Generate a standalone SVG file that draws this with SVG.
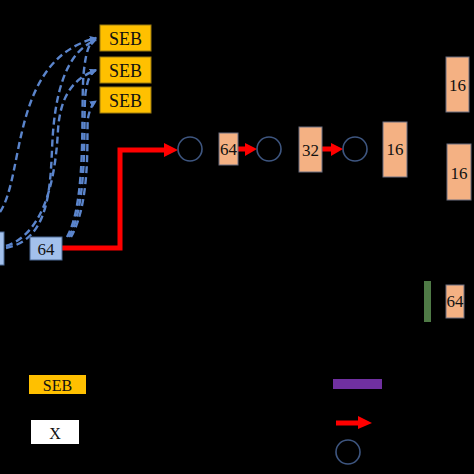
<svg xmlns="http://www.w3.org/2000/svg" width="474" height="474" viewBox="0 0 474 474">
<defs>
<style>
.t{font-family:"Liberation Serif","DejaVu Serif",serif;fill:#111;text-anchor:middle}
.seb{fill:#FFC000;stroke:#9a7a10;stroke-width:1}
.blu{fill:#a3c1ec;stroke:#4d6a96;stroke-width:1}
.ora{fill:#F4B183;stroke:#6d6f80;stroke-width:1}
.cir{fill:none;stroke:#3e5680;stroke-width:1.6}
.dash{fill:none;stroke:#5b85cc;stroke-width:2.4;stroke-dasharray:7 4}
.red{fill:none;stroke:#ff0000;stroke-width:5}
</style>
<marker id="ba" markerWidth="7" markerHeight="7" refX="6" refY="3.5" orient="auto" markerUnits="userSpaceOnUse">
<path d="M0,0 L7,3.5 L0,7 Z" fill="#5b85cc"/>
</marker>
</defs>
<rect width="474" height="474" fill="#000"/>
<g id="connectors">
<path class="dash" d="M0,212 C25,175 10,60 96,38" marker-end="url(#ba)"/>
<path class="dash" d="M6,248 C45,240 50,200 52,150 C54,95 65,52 96,40" marker-end="url(#ba)"/>
<path class="dash" d="M6,246 C40,235 55,190 58,130 C60,100 70,80 96,70" marker-end="url(#ba)"/>
<path class="dash" d="M67,237 C88,200 80,100 84,70 C86,52 89,42 96,38" marker-end="url(#ba)"/>
<path class="dash" d="M69,237 C90,200 82,110 86,90 C88,78 91,72 96,70" marker-end="url(#ba)"/>
<path class="dash" d="M71,237 C92,200 86,130 88,118 C90,108 93,103 96,101" marker-end="url(#ba)"/>
<path class="red" d="M62,248 H120 V150 H166"/>
<path d="M164,143 L178,150 L164,157 Z" fill="#ff0000"/>
<path d="M238,149 H247" stroke="#ff0000" stroke-width="5"/>
<path d="M245,143 L257,149 L245,156 Z" fill="#ff0000"/>
<path d="M322,149 H333" stroke="#ff0000" stroke-width="5"/>
<path d="M331,143 L343,149 L331,156 Z" fill="#ff0000"/>
</g>
<g id="seb1"><rect class="seb" x="100" y="25" width="51" height="26"/><text class="t" x="125.5" y="44.5" font-size="18">SEB</text></g>
<g id="seb2"><rect class="seb" x="100" y="57" width="51" height="26"/><text class="t" x="125.5" y="76.5" font-size="18">SEB</text></g>
<g id="seb3"><rect class="seb" x="100" y="87" width="51" height="26"/><text class="t" x="125.5" y="106.5" font-size="18">SEB</text></g>
<g id="blue-left"><rect class="blu" x="-10" y="232" width="14" height="33"/></g>
<g id="blue64"><rect class="blu" x="30" y="237" width="32" height="23"/><text class="t" x="46" y="255" font-size="17">64</text></g>
<g id="circle1"><circle class="cir" cx="190" cy="149" r="12"/></g>
<g id="box64"><rect class="ora" x="219" y="133" width="19" height="32"/><text class="t" x="228.5" y="155" font-size="17">64</text></g>
<g id="circle2"><circle class="cir" cx="269" cy="149" r="12"/></g>
<g id="box32"><rect class="ora" x="299" y="127" width="23" height="45"/><text class="t" x="310.5" y="156" font-size="17">32</text></g>
<g id="circle3"><circle class="cir" cx="355" cy="149" r="12"/></g>
<g id="box16a"><rect class="ora" x="383" y="122" width="24" height="55"/><text class="t" x="395" y="155" font-size="17">16</text></g>
<g id="box16b"><rect class="ora" x="446" y="57" width="23" height="55"/><text class="t" x="457.5" y="91" font-size="17">16</text></g>
<g id="box16c"><rect class="ora" x="447" y="144" width="24" height="56"/><text class="t" x="459" y="179" font-size="17">16</text></g>
<g id="green"><rect x="424" y="281" width="7" height="41" fill="#4f7a46"/></g>
<g id="box64b"><rect class="ora" x="446" y="285" width="18" height="33"/><text class="t" x="455" y="307" font-size="17">64</text></g>
<g id="legend-seb"><rect x="29" y="375" width="57" height="19" fill="#FFC000"/><text class="t" x="57.5" y="390.5" font-size="16">SEB</text></g>
<g id="legend-x"><rect x="31" y="420" width="48" height="24" fill="#fff"/><text class="t" x="55" y="438.5" font-size="16">X</text></g>
<g id="legend-purple"><rect x="333" y="379" width="49" height="10" fill="#7030A0"/></g>
<g id="legend-arrow"><path d="M336,423 H360" stroke="#ff0000" stroke-width="5"/><path d="M358,416 L372,423 L358,429 Z" fill="#ff0000"/></g>
<g id="legend-circle"><circle class="cir" cx="348" cy="452" r="12"/></g>
</svg>
